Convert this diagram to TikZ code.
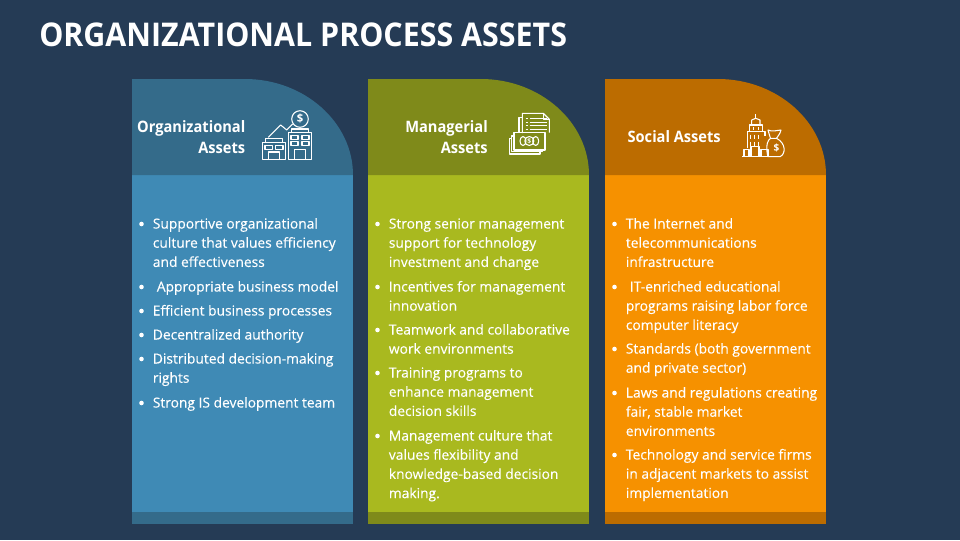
\documentclass[tikz,border=0pt]{standalone}
\usepackage{fontspec}
\setmainfont{Open Sans}
\newfontfamily\itemfont[FakeBold=0.3]{Open Sans}
\newfontfamily\headfont[FakeStretch=0.93]{Open Sans}
\definecolor{slidebg}{HTML}{253B55}
\definecolor{bluehead}{HTML}{346B8A}
\definecolor{bluebody}{HTML}{3F8AB5}
\definecolor{olivehead}{HTML}{7F8A1A}
\definecolor{olivebody}{HTML}{A9B91F}
\definecolor{orangehead}{HTML}{BC6C00}
\definecolor{orangebody}{HTML}{F69100}
\tikzset{>=stealth}
\tikzset{
  itemtext/.style={anchor=north west, inner sep=0pt, align=left, text=white, font=\itemfont\fontsize{10.35}{14.4}\selectfont},
  headtext/.style={anchor=east, inner sep=0pt, align=right, text=white, font=\headfont\fontsize{11.8}{15.75}\selectfont\bfseries},
  icon/.style={draw=white, line width=0.8pt, line join=round}
}
\newcommand{\assetitem}[2]{%
  \node[itemtext] at (20.6,{#1-9.2}) {\strut #2};
  \fill[white] (9.5,#1) circle (2.3);
}
\begin{document}
\begin{tikzpicture}[x=0.75pt, y=-0.75pt]
\fill[slidebg] (0,0) rectangle (960,540);
\useasboundingbox (0,0) rectangle (960,540);
\node[anchor=west, inner sep=0pt, text=white, font=\headfont\fontsize{24.5}{28}\selectfont\bfseries] (title) at (39,34.5) {ORGANIZATIONAL PROCESS ASSETS};
\foreach \px/\headcol/\bodycol in {132/bluehead/bluebody, 368/olivehead/olivebody, 605/orangehead/orangebody}{
  \begin{scope}[shift={(\px,0)}]
  \fill[\bodycol] (0,175) rectangle (221,512);
  \fill[\headcol] (0,512) rectangle (221,524);
  \fill[\headcol] (0,79) -- (113,79) .. controls (172,79) and (221,122) .. (221,175) -- (0,175) -- cycle;
  \end{scope}
}
\node[headtext] (orghead) at (245.5,137.2) {Organizational\\Assets};
\node[headtext] (mgrhead) at (488,137.2) {Managerial\\Assets};
\node[headtext] (sochead) at (721,136.7) {Social Assets};
\begin{scope}[shift={(132,0)}]
\assetitem{224}{Supportive organizational\\culture that values efficiency\\and effectiveness}
\assetitem{287}{\hspace*{3pt}Appropriate business model}
\assetitem{311}{Efficient business processes}
\assetitem{335}{Decentralized authority}
\assetitem{359}{Distributed decision-making\\rights}
\assetitem{403}{Strong IS development team}
\end{scope}
\begin{scope}[shift={(368,0)}]
\assetitem{224}{Strong senior management\\support for technology\\investment and change}
\assetitem{287}{Incentives for management\\innovation}
\assetitem{330}{Teamwork and collaborative\\work environments}
\assetitem{373}{Training programs to\\enhance management\\decision skills}
\assetitem{436}{Management culture that\\values flexibility and\\knowledge-based decision\\making.}
\end{scope}
\begin{scope}[shift={(605,0)}]
\assetitem{224}{The Internet and\\telecommunications\\infrastructure}
\assetitem{287}{\hspace*{3pt}IT-enriched educational\\programs raising labor force\\computer literacy}
\assetitem{349}{Standards (both government\\and private sector)}
\assetitem{393}{Laws and regulations creating\\fair, stable market\\environments}
\assetitem{455}{Technology and service firms\\in adjacent markets to assist\\implementation}
\end{scope}
\draw[icon] (262.7,159.3) rectangle (285.3,142.7);
\draw[icon] (265.7,142.7) rectangle (282.3,138.7);
\draw[icon] (265,145.5) rectangle (272.5,149.5);
\draw[icon] (275.5,145.5) rectangle (283,149.5);
\draw[icon] (268.3,159.3) rectangle (279.3,152);
\draw[icon] (288.3,159.3) rectangle (311.7,132.7);
\draw[icon] (291.7,132.7) rectangle (308.3,129);
\foreach \wy in {135.5,141.5}{
  \draw[icon] (291,\wy) rectangle (298,\wy+4);
  \draw[icon] (302,\wy) rectangle (309,\wy+4);
}
\draw[icon] (294.3,159.3) rectangle (305.7,149.5);
\draw[icon] (268.3,137.3) -- (280.7,125) -- (286.7,130) -- (292.7,124);
\draw[icon] (300,119) circle (8.3);
\node[inner sep=0pt, text=white, font=\fontsize{8.5}{10}\selectfont\bfseries] (orgdollar) at (300,119) {\$};
\draw[icon] (522.3,133) -- (522.3,113.3) -- (543.3,113.3) -- (549.3,119.3) -- (549.3,132.5);
\draw[icon] (543.3,113.3) -- (543.3,119.3) -- (549.3,119.3);
\draw[icon] (519,132.5) -- (519,117.3) -- (522.3,117.3);
\foreach \ly in {118.5,122,125.5,129}{
  \draw[icon, line width=0.6pt] (525.5,\ly) -- (527.5,\ly);
  \draw[icon, line width=0.6pt] (529.5,\ly) -- (546.5,\ly);
}
\draw[icon] (514,132.7) rectangle (545,150);
\draw[icon] (514,136) -- (511.7,136) -- (511.7,151.7) -- (542.7,151.7) -- (542.7,150);
\draw[icon] (511.7,138.3) -- (509.3,138.3) -- (509.3,154) -- (540,154) -- (540,151.7);
\draw[icon] (529.3,141) circle (4.5);
\draw[icon] (523,141) ellipse (3 and 4.5);
\draw[icon] (535.7,141) ellipse (3 and 4.5);
\node[inner sep=0pt, text=white, font=\fontsize{5}{6}\selectfont\bfseries] (mgrdollar) at (529.3,141) {\$};
\draw[icon] (755.7,114) -- (755.7,118.3);
\draw[icon] (751.7,125) -- (751.7,120) -- (755.7,118.3) -- (760,120) -- (760,125);
\draw[icon] (749.3,131.7) -- (749.3,125) -- (762.3,125) -- (762.3,131.7);
\draw[icon] (747.3,148.3) -- (747.3,131.7) -- (765,131.7) -- (765,136);
\foreach \wx in {750.5,754.5,758.5}{
  \draw[icon, line width=0.6pt] (\wx,134.5) -- (\wx,139);
  \draw[icon, line width=0.6pt] (\wx,141.5) -- (\wx,146);
}
\draw[icon, line width=0.6pt] (753.5,127) -- (753.5,130);
\draw[icon, line width=0.6pt] (758,127) -- (758,130);
\draw[icon] (744,156.7) -- (744,149.5) -- (749,149.5) -- (749,156.7);
\draw[icon] (751,156.7) -- (751,146.5) -- (759,146.5) -- (759,156.7);
\draw[icon] (761,156.7) -- (761,149.5) -- (768,149.5) -- (768,156.7);
\draw[icon] (742.3,156.7) -- (770,156.7);
\draw[icon] (768,130) .. controls (772,132) and (776,130.5) .. (781,130) .. controls (780,134) and (778,136) .. (776.5,138.3) -- (770.5,138.3) .. controls (769.5,136) and (769,133) .. (768,130) -- cycle;
\draw[icon] (770.5,138.3) .. controls (764,143) and (768,156.7) .. (768,156.7) -- (780,156.7) .. controls (786,154) and (786,143) .. (776.5,138.3);
\node[inner sep=0pt, text=white, font=\fontsize{7.5}{9}\selectfont\bfseries] (socdollar) at (776.5,147.5) {\$};
\end{tikzpicture}
\end{document}
